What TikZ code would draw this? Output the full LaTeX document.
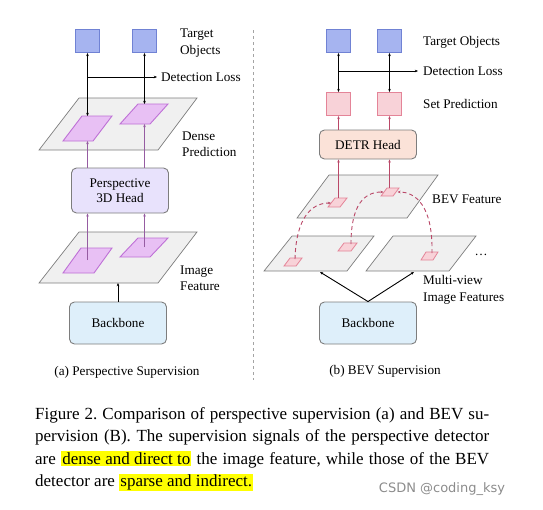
\documentclass[tikz,border=0pt]{standalone}
\usepackage{fontspec}
\setmainfont{Liberation Serif}
\newfontfamily\wmfont{DejaVu Sans}
\usetikzlibrary{arrows.meta}
\definecolor{tgtblue}{RGB}{166,180,240}
\definecolor{tgtedge}{RGB}{112,130,212}
\definecolor{patchfill}{RGB}{232,192,244}
\definecolor{patchedge}{RGB}{190,112,214}
\definecolor{purpline}{RGB}{150,92,162}
\definecolor{headfill}{RGB}{232,226,252}
\definecolor{bonefill}{RGB}{222,239,250}
\definecolor{planefill}{RGB}{240,240,240}
\definecolor{planeedge}{RGB}{125,125,125}
\definecolor{setfill}{RGB}{248,210,216}
\definecolor{setedge}{RGB}{228,132,152}
\definecolor{detrfill}{RGB}{251,226,216}
\definecolor{pinkline}{RGB}{186,72,104}
\definecolor{marker}{RGB}{255,255,0}
\begin{document}
\begin{tikzpicture}[x=1pt,y=-1pt,
	tip/.style={-{Stealth[length=3.2pt,width=2.6pt]}},
	tips/.style={{Stealth[length=3.2pt,width=2.6pt]}-{Stealth[length=3.2pt,width=2.6pt]}},
	lbl/.style={font=\fontsize{13.2}{16.5}\selectfont,inner sep=0pt,anchor=west,align=left},
	sq/.style={draw=tgtedge,fill=tgtblue,line width=0.9pt,minimum width=24pt,minimum height=23pt,inner sep=0pt},
	setsq/.style={sq,draw=setedge,fill=setfill},
	block/.style={draw=planeedge,line width=0.9pt,rounded corners=5pt,minimum width=97pt,inner sep=0pt,align=center,font=\fontsize{13.2}{16.5}\selectfont},
	plane/.style={draw=planeedge,fill=planefill,line width=0.7pt},
	patch/.style={draw=patchedge,fill=patchfill,line width=0.9pt},
	bevpatch/.style={draw=setedge,fill=setfill,line width=0.8pt}]
\useasboundingbox (0,0) rectangle (543,509);

% separator
\draw[planeedge!70,dashed,line width=0.7pt] (253,30) -- (253,380);

%%% (a) perspective supervision
\node[sq] (tgtA) at (87.5,41) {};
\node[sq] (tgtB) at (144.5,41) {};
\node[lbl] (objA) at (180,43) {Target\\Objects};
\node[lbl] (lossA) at (161,77) {Detection Loss};
\coordinate (lossAend) at (157,77);

\draw[plane] (79,98) -- (197,98) -- (158,150) -- (39,150) -- cycle;
\draw[patch] (82,116) -- (112,116) -- (93,141) -- (63,141) -- cycle;
\draw[patch] (138,104) -- (168,104) -- (150,124) -- (120,124) -- cycle;
\coordinate (dA1) at (87.5,116);
\coordinate (dA2) at (144.5,104);
\coordinate (dB1) at (87.5,141);
\coordinate (dB2) at (144.5,124);
\node[lbl] (dense) at (182,144) {Dense\\Prediction};

\node[block,fill=headfill,minimum height=45pt] (head3d) at (120,190.5) {Perspective\\[-1pt]3D Head};

\draw[plane] (79,232) -- (197,232) -- (158,283) -- (39,283) -- cycle;
\draw[patch] (81,248) -- (112,248) -- (94,273) -- (63,273) -- cycle;
\draw[patch] (138,238) -- (168,238) -- (150,257) -- (120,257) -- cycle;
\coordinate (fA1) at (87.5,260);
\coordinate (fA2) at (144.5,247);
\coordinate (fbot) at (118,283);
\node[lbl] (imgfeat) at (180,278) {Image\\Feature};

\node[block,fill=bonefill,minimum height=42pt] (boneA) at (118,323) {Backbone};

\draw[tips,line width=0.8pt] (tgtA.south) -- (dA1);
\draw[tips,line width=0.8pt] (tgtB.south) -- (dA2);
\draw[tip,line width=0.8pt] (tgtA.south |- lossA) -- (lossAend);
\draw[tip,purpline,line width=0.8pt] (head3d.north -| dB1) -- (dB1);
\draw[tip,purpline,line width=0.8pt] (head3d.north -| dB2) -- (dB2);
\draw[tip,purpline,line width=0.8pt] (fA1) -- (head3d.south -| fA1);
\draw[tip,purpline,line width=0.8pt] (fA2) -- (head3d.south -| fA2);
\draw[tip,line width=0.8pt] (boneA.north) -- (fbot);

\node[font=\fontsize{13.2}{16}\selectfont] (capA) at (127,372) {(a) Perspective Supervision};

%%% (b) BEV supervision
\node[sq] (tgtC) at (338.5,41) {};
\node[sq] (tgtD) at (389.5,41) {};
\node[setsq] (setA) at (338.5,104) {};
\node[setsq] (setB) at (389.5,104) {};
\node[lbl] (objB) at (423,42) {Target Objects};
\node[lbl] (lossB) at (423,71) {Detection Loss};
\coordinate (lossBend) at (418,71);
\node[lbl] (setpred) at (423,104) {Set Prediction};

\node[block,fill=detrfill,minimum height=29pt] (detr) at (368,144.5) {DETR Head};

\draw[plane] (329,175) -- (438,175) -- (407,218) -- (297,218) -- cycle;
\draw[bevpatch] (335,198) -- (347,198) -- (340,207) -- (328,207) -- cycle;
\draw[bevpatch] (387,188) -- (399,188) -- (393,196) -- (381,196) -- cycle;
\coordinate (bev1) at (338.5,198);
\coordinate (bev2) at (389.5,188);
\coordinate (bev1in) at (331,203);
\coordinate (bev2l) at (383.5,192);
\coordinate (bev2r) at (397.5,192);
\node[lbl] (bevlbl) at (432,199) {BEV Feature};

\draw[plane] (292,236) -- (374,236) -- (347,271) -- (264,271) -- cycle;
\draw[plane] (393,236) -- (476,236) -- (449,271) -- (366,271) -- cycle;
\draw[bevpatch] (290,258) -- (302,258) -- (296,266) -- (284,266) -- cycle;
\draw[bevpatch] (344,243) -- (357,243) -- (351,251) -- (338,251) -- cycle;
\draw[bevpatch] (426,252) -- (438,252) -- (433,260) -- (421,260) -- cycle;
\coordinate (mvA) at (295,259);
\coordinate (mvB) at (351,244);
\coordinate (mvC) at (432,253);
\coordinate (mvL) at (320,272);
\coordinate (mvR) at (414,272);
\node[font=\fontsize{13}{16}\selectfont,inner sep=0pt] (dots) at (481,255) {\dots};
\node[lbl] (mvlbl) at (423,290) {Multi-view\\Image Features};

\node[block,fill=bonefill,minimum height=42pt] (boneB) at (368,323) {Backbone};

\draw[tips,line width=0.8pt] (tgtC.south) -- (setA.north);
\draw[tips,line width=0.8pt] (tgtD.south) -- (setB.north);
\draw[tip,line width=0.8pt] (tgtC.south |- lossB) -- (lossBend);
\draw[tip,pinkline,line width=0.8pt] (detr.north -| setA) -- (setA.south);
\draw[tip,pinkline,line width=0.8pt] (detr.north -| setB) -- (setB.south);
\draw[tip,pinkline,line width=0.8pt] (bev1) -- (detr.south -| bev1);
\draw[tip,pinkline,line width=0.8pt] (bev2) -- (detr.south -| bev2);
\draw[tip,pinkline,dashed,dash pattern=on 4pt off 3pt,line width=0.9pt] (mvA) .. controls (296,220) and (310,203) .. (bev1in);
\draw[tip,pinkline,dashed,dash pattern=on 4pt off 3pt,line width=0.9pt] (mvB) .. controls (351,205) and (364,192) .. (bev2l);
\draw[tip,pinkline,dashed,dash pattern=on 4pt off 3pt,line width=0.9pt] (mvC) .. controls (433,205) and (415,192) .. (bev2r);
\draw[tip,line width=0.9pt] (boneB.north) -- (mvL);
\draw[tip,line width=0.9pt] (boneB.north) -- (mvR);

\node[font=\fontsize{13.2}{16}\selectfont] (capB) at (385,371) {(b) BEV Supervision};

%%% figure caption
\node[inner sep=0pt,anchor=north west,text width=454pt,align=justify,
	font=\fontsize{17}{22.5}\selectfont] (caption) at (35,407)
	{\frenchspacing\setlength{\fboxsep}{1.2pt}Figure 2. Comparison of perspective supervision (a) and BEV su-\linebreak
	pervision (B). The supervision signals of the perspective detector\linebreak
	are \colorbox{marker}{dense and direct to} the image feature, while those of the BEV\linebreak
	detector are \colorbox{marker}{sparse and indirect.}\hfill\null};
\node[font=\wmfont\fontsize{13}{15}\selectfont,text=black!45,inner sep=0pt] (wm) at (442,489) {CSDN @coding\_ksy};
\end{tikzpicture}
\end{document}
